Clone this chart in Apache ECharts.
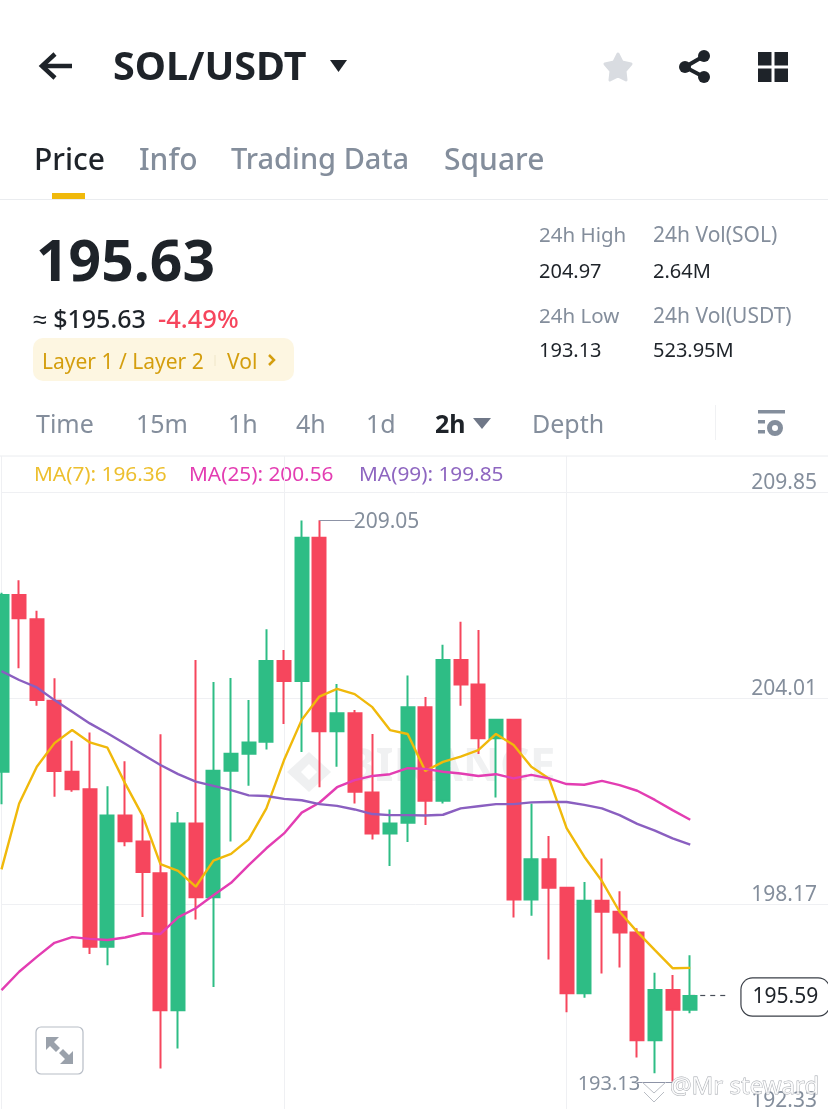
<!DOCTYPE html>
<html>
<head>
<meta charset="utf-8">
<title>SOL/USDT</title>
<script src="https://cdn.jsdelivr.net/npm/echarts@6/dist/echarts.min.js"></script>
<style>
html, body { margin: 0; padding: 0; background: #fff; }
#chart { width: 828px; height: 1109px; }
</style>
</head>
<body>
<div id="chart"></div>
<script>
var opens  = [201.92,206.93,206.24,203.93,201.92,201.42,196.96,200.68,199.94,199.04,195.16,200.45,198.36,201.95,202.43,202.77,205.06,204.49,208.55,203.07,203.58,201.33,200.17,200.47,203.75,201.10,205.09,204.39,202.87,203.39,198.30,199.44,198.63,195.64,198.26,197.95,197.36,194.31,195.73,195.17];
var closes = [206.93,206.27,203.95,201.94,201.42,196.96,200.68,199.95,199.08,195.16,200.45,198.36,201.95,202.43,202.75,205.06,204.49,208.55,203.07,203.58,201.35,200.17,200.45,203.75,201.10,205.09,204.39,202.87,203.39,198.30,199.44,198.63,195.64,198.26,197.95,197.36,194.31,195.73,195.17,195.56];
var lows   = [201.00,204.85,203.79,201.21,201.35,196.75,196.43,199.81,197.80,193.51,194.07,197.73,195.82,199.94,201.52,202.55,203.27,202.48,201.48,202.06,201.02,200.00,199.25,199.93,200.41,201.02,203.79,202.42,201.19,197.79,197.84,196.60,195.10,195.51,196.20,196.37,193.82,193.37,193.13,195.07];
var highs  = [206.99,207.35,206.48,204.57,202.80,203.03,201.51,202.22,200.69,202.98,200.78,205.09,204.46,204.58,203.95,205.96,205.37,209.04,209.05,204.41,203.67,202.99,200.85,204.65,204.04,205.52,206.17,205.94,203.39,203.39,201.02,200.10,198.65,198.79,199.46,198.53,197.48,196.22,196.16,196.72];
var ma7  = [199.15,201.02,202.06,202.73,203.10,202.75,202.60,201.59,200.66,199.30,199.11,198.66,199.40,199.59,200.00,200.88,202.25,203.39,204.05,204.27,204.12,203.75,203.10,202.99,201.94,202.20,202.35,202.53,202.99,202.68,202.06,201.73,200.32,199.51,198.82,197.95,197.38,196.86,196.35,196.36];
var ma25 = [195.73,196.25,196.67,197.07,197.23,197.18,197.15,197.22,197.34,197.32,197.79,198.05,198.42,198.77,199.27,199.75,200.17,200.76,201.04,201.48,201.68,201.80,201.85,202.02,202.00,201.92,201.87,201.80,201.85,201.73,201.83,201.73,201.57,201.55,201.66,201.54,201.38,201.12,200.83,200.56];
var ma99 = [204.77,204.52,204.31,203.95,203.62,203.29,203.01,202.71,202.41,202.11,201.85,201.64,201.52,201.40,201.25,201.23,201.15,201.11,201.00,200.95,200.85,200.72,200.69,200.69,200.68,200.70,200.88,200.94,201.00,201.00,201.05,201.06,201.06,200.98,200.88,200.69,200.44,200.25,200.03,199.85];
var priceTicks = [192.33, 198.17, 204.01, 209.85];
var highPrice = 209.05;
var lowPrice = 193.13;
var lastPrice = 195.59;

// empty slots keep room on the right of the last candle
var slots = [];
for (var s = 0; s < 48; s++) slots.push('t' + s);

var candles = opens.map(function (o, i) { return [o, closes[i], lows[i], highs[i]]; });

var FONT = '"Noto Sans", sans-serif';
var DARK = '#1E2329';
var GREY = '#848E9C';
var GREEN = '#2EBD85';
var RED = '#F6465D';

function txt(text, x, y, size, color, weight, extra) {
    var el = {
        type: 'text', x: x, y: y + 4,
        style: {
            text: text, fill: color,
            font: (weight || 400) + ' ' + size + 'px ' + FONT,
            textAlign: 'left', textVerticalAlign: 'middle'
        }
    };
    if (extra) echarts.util.merge(el, extra);
    return el;
}
function rule(x1, y1, x2, y2, color, width) {
    return { type: 'line', shape: { x1: x1, y1: y1, x2: x2, y2: y2 }, style: { stroke: color, lineWidth: width || 1 } };
}
function poly(points, color) {
    return { type: 'polygon', shape: { points: points }, style: { fill: color } };
}
function box(x, y, w, h, color) {
    return { type: 'rect', shape: { x: x, y: y, width: w, height: h }, style: { fill: color } };
}

var chrome = [
    // top bar
    { type: 'polyline', shape: { points: [[55, 54], [42, 66], [55, 78]] }, style: { stroke: DARK, lineWidth: 4.5, fill: null } },
    rule(43, 66, 72, 66, DARK, 4.5),
    txt('SOL/USDT', 113, 65, 39.5, DARK, 700),
    poly([[330, 60], [347, 60], [338.5, 72]], DARK),
    { type: 'polygon', shape: { points: [[618, 54], [622, 62], [631, 64], [625, 71], [626, 80], [618, 76], [610, 80], [611, 71], [605, 64], [614, 62]] }, style: { fill: '#D9DCE1', stroke: '#D9DCE1', lineWidth: 3, lineJoin: 'round' } },
    { type: 'polyline', shape: { points: [[704, 56], [685, 67], [704, 77]] }, style: { stroke: DARK, lineWidth: 4, fill: null } },
    { type: 'circle', shape: { cx: 704, cy: 56, r: 6 }, style: { fill: DARK } },
    { type: 'circle', shape: { cx: 685, cy: 67, r: 6 }, style: { fill: DARK } },
    { type: 'circle', shape: { cx: 704, cy: 77, r: 6 }, style: { fill: DARK } },
    box(758, 52, 13.5, 13.5, DARK), box(774.5, 52, 13.5, 13.5, DARK),
    box(758, 68.5, 13.5, 13.5, DARK), box(774.5, 68.5, 13.5, 13.5, DARK),

    // tabs
    txt('Price', 34, 157, 30, DARK, 500),
    txt('Info', 139, 157, 30, GREY, 500),
    txt('Trading Data', 231, 157, 29, GREY, 500),
    txt('Square', 444, 157, 30, GREY, 500),
    box(52, 193, 33, 6, '#F0B90B'),
    rule(0, 199.5, 828, 199.5, '#EAECEF'),

    // price block
    txt('195.63', 36, 261, 57, DARK, 700),
    txt('≈ $195.63', 33, 317, 25, DARK, 500),
    txt('-4.49%', 158, 317, 25.5, RED, 500),
    { type: 'rect', shape: { x: 33, y: 338, width: 261, height: 43, r: 10 }, style: { fill: '#FDF6E1' } },
    txt('Layer 1 / Layer 2', 42, 359, 21, '#D49E0E'),
    rule(215, 355, 215, 366, '#EFE6C8'),
    txt('Vol', 227, 359, 21, '#D49E0E'),
    { type: 'polyline', shape: { points: [[269, 355], [274, 360], [269, 365]] }, style: { stroke: '#D49E0E', lineWidth: 2.5, fill: null } },

    txt('24h High', 539, 232, 20.5, GREY),
    txt('204.97', 539, 268, 20, DARK),
    txt('24h Vol(SOL)', 653, 232, 21, GREY),
    txt('2.64M', 653, 268, 20, DARK),
    txt('24h Low', 539, 313, 20.5, GREY),
    txt('193.13', 539, 347, 20, DARK),
    txt('24h Vol(USDT)', 653, 313, 21, GREY),
    txt('523.95M', 653, 347, 20, DARK),

    // interval row
    txt('Time', 36, 422, 25, GREY),
    txt('15m', 136, 422, 25, GREY),
    txt('1h', 228, 422, 25, GREY),
    txt('4h', 296, 422, 25, GREY),
    txt('1d', 366, 422, 25, GREY),
    txt('2h', 435, 422, 25, DARK, 700),
    poly([[473, 418], [491, 418], [482, 429]], '#6F7787'),
    txt('Depth', 532, 422, 25, GREY),
    rule(715.5, 405, 715.5, 440, '#F0F1F3'),
    box(758, 410, 27, 3.5, GREY),
    box(758, 420, 7, 3.5, GREY),
    box(758, 430, 7, 3.5, GREY),
    { type: 'ring', shape: { cx: 775, cy: 428, r: 8, r0: 3 }, style: { fill: GREY } },
    rule(0, 456, 828, 456, '#EAECEF'),

    // MA legend
    txt('MA(7): 196.36', 34, 471, 20.8, '#EDBF2E'),
    txt('MA(25): 200.56', 189, 471, 20.8, '#E33DB2'),
    txt('MA(99): 199.85', 359, 471, 20.8, '#8E66C0'),

    // exchange watermark behind the candles
    { type: 'polygon', z: 1, shape: { points: [[309, 752], [331, 772], [309, 792], [287, 772]] }, style: { fill: '#EFF0F1' } },
    { type: 'polygon', z: 1, shape: { points: [[309, 764], [317, 772], [309, 780], [301, 772]] }, style: { fill: '#fff' } },
    txt('BINANCE', 345, 764, 46, '#F0F1F2', 700, { z: 1 }),

    // expand button
    { type: 'rect', shape: { x: 36, y: 1027, width: 47, height: 47, r: 5 }, style: { fill: '#fff', stroke: '#B7BDC6', lineWidth: 1.2 } },
    poly([[46, 1037], [59, 1037], [54, 1042], [60, 1048], [56, 1052], [50, 1046], [46, 1050]], '#9AA1AB'),
    poly([[73, 1064], [60, 1064], [65, 1059], [59, 1053], [63, 1049], [69, 1055], [73, 1051]], '#9AA1AB'),

    // poster's mark
    { type: 'polyline', z: 20, shape: { points: [[642, 1082], [654, 1093], [666, 1082]] }, style: { stroke: '#B9BDC4', lineWidth: 1, fill: null } },
    { type: 'polyline', z: 20, shape: { points: [[644, 1092], [654, 1102], [664, 1092]] }, style: { stroke: '#B9BDC4', lineWidth: 1, fill: null } },
    txt('@Mr steward', 670, 1083, 24, 'rgba(255,255,255,0.75)', 400, { z: 20, style: { stroke: '#A4A8AE', lineWidth: 0.8 } })
];

var chart = echarts.init(document.getElementById('chart'));
chart.setOption({
    animation: false,
    backgroundColor: '#fff',
    grid: { left: 1.5, top: 456, width: 830, height: 654, outerBoundsMode: 'none' },
    xAxis: {
        type: 'category',
        data: slots,
        boundaryGap: false,
        axisLine: { show: false },
        axisTick: { show: false },
        axisLabel: { show: false },
        splitLine: {
            show: true,
            interval: function (i) { return i % 16 === 0; },
            lineStyle: { color: '#EFF0F3', width: 1 }
        }
    },
    yAxis: {
        type: 'value',
        position: 'right',
        min: priceTicks[0],
        max: 210.87,
        axisLine: { show: false },
        axisTick: { show: false, customValues: priceTicks },
        axisLabel: {
            inside: true,
            margin: 14.5,
            customValues: priceTicks,
            verticalAlign: 'bottom',
            color: GREY,
            fontFamily: FONT,
            fontSize: 21,
            lineHeight: 18,
            formatter: function (v) { return v.toFixed(2); }
        },
        splitLine: { show: true, lineStyle: { color: '#EFF0F3', width: 1 } }
    },
    series: [
        {
            type: 'candlestick',
            data: candles,
            barWidth: 13.5,
            clip: false,
            itemStyle: { color: GREEN, color0: RED, borderColor: GREEN, borderColor0: RED, borderWidth: 2 },
            markLine: {
                silent: true,
                symbol: ['none', 'none'],
                animation: false,
                lineStyle: { color: '#8D93A6', width: 1, type: 'solid' },
                label: {
                    show: true, position: 'end', distance: 0, formatter: '{b}',
                    color: GREY, fontFamily: FONT, fontSize: 21, offset: [-1, 2]
                },
                data: [
                    [{ name: highPrice.toFixed(2), coord: [18, highPrice] }, { coord: [20, highPrice] }],
                    [{ name: lowPrice.toFixed(2), coord: [38, lowPrice], label: { fontSize: 20, offset: [3, 3] } }, { coord: [36, lowPrice] }]
                ]
            }
        },
        {
            name: 'MA(7)', type: 'line', data: ma7, showSymbol: false, silent: true,
            lineStyle: { color: '#F0B90B', width: 2.4 },
            markLine: {
                silent: true,
                z: 1,
                symbol: ['none', 'none'],
                animation: false,
                lineStyle: { color: '#474D57', width: 1.2, type: [5, 5] },
                label: {
                    show: true, position: 'end', distance: 16, formatter: '{b}',
                    color: DARK, fontFamily: FONT, fontSize: 21, offset: [0, 2],
                    backgroundColor: '#fff', borderColor: '#3A3F47', borderWidth: 1.2, borderRadius: 11,
                    padding: [8, 11]
                },
                data: [[{ name: lastPrice.toFixed(2), coord: [39, lastPrice] }, { coord: [41, lastPrice] }]]
            }
        },
        { name: 'MA(25)', type: 'line', data: ma25, showSymbol: false, silent: true, lineStyle: { color: '#E33DB2', width: 2.4 } },
        { name: 'MA(99)', type: 'line', data: ma99, showSymbol: false, silent: true, lineStyle: { color: '#8A5FC0', width: 2.4 } }
    ],
    graphic: chrome
});
</script>
</body>
</html>
